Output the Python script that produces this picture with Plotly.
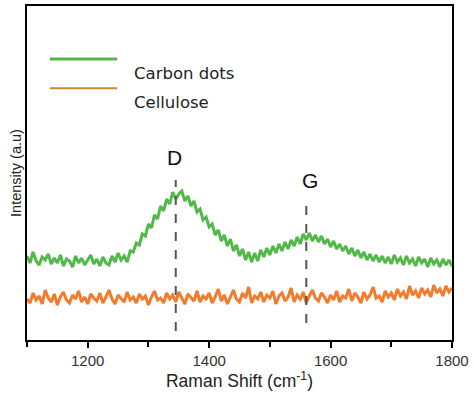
import plotly.graph_objects as go

raman_shift = [1100 + 5 * i for i in range(141)]

carbon_dots = [
    84, 77, 88, 79, 75, 83, 80, 86, 76, 82, 77, 85, 74, 81, 79, 73, 84, 77, 82, 75,
    80, 85, 76, 81, 74, 83, 77, 75, 84, 78, 87, 80,
    84, 78, 89, 88, 97, 95, 106, 104, 116, 112, 125, 121, 134, 129, 141, 136, 148, 141,
    146, 149, 139, 144, 134, 139, 128, 131, 120, 123, 113, 116, 105, 110, 99, 105, 94, 101,
    89, 95, 84, 91, 80, 88, 78,
    87, 79, 90, 83, 92, 85, 94, 87, 96, 89, 98, 91, 100, 94, 103, 96, 106, 100,
    107, 99, 105, 98, 104, 96, 101, 93, 99, 91, 96, 89, 94, 86, 92, 84, 90, 82, 88, 80,
    86, 79, 85, 78,
    84, 77, 83, 76, 85, 78, 82, 75, 84, 77, 81, 74, 83, 77, 81, 73, 82, 76, 80, 73,
    81, 75, 80, 74,
]

cellulose = [
    41, 37, 47, 40, 44, 36, 50, 42, 38, 46, 35, 43, 48, 40, 37, 45, 41, 49, 38, 43,
    36, 46, 42, 39, 47, 37, 43, 50, 41, 36, 45, 42, 38, 48, 40, 43, 37, 46, 41, 44,
    35, 43, 49, 40, 42, 37, 47, 41, 45, 38, 48, 42, 36, 46, 43, 39, 49, 38, 44, 41,
    47, 37, 43, 51, 39, 45, 36, 44, 50, 41, 38, 47, 42, 53, 37, 44, 41, 48, 38, 45,
    42, 49, 36, 44, 47, 39, 43, 52, 38, 45, 41, 48, 37, 44, 50, 42, 39, 47, 43, 37,
    45, 40, 49, 38, 44, 42, 51, 39, 47, 43, 37, 48, 41, 45, 53, 42, 44, 38, 49, 43,
    47, 40, 51, 44, 48, 41, 54, 45, 49, 42, 52, 46, 50, 43, 55, 47, 51, 44, 54, 48, 52,
]

series_names = ["Carbon dots", "Cellulose"]
peak_labels = ["D", "G"]
peak_positions = [1345, 1560]
x_ticks = [1200, 1400, 1600, 1800]

GREEN = "#52B848"
ORANGE = "#F37B2C"
LEGEND_ORANGE = "#C9872E"

fig = go.Figure()
fig.add_trace(go.Scatter(x=raman_shift, y=carbon_dots, mode="lines",
                         line=dict(color=GREEN, width=3), name=series_names[0],
                         showlegend=False))
fig.add_trace(go.Scatter(x=raman_shift, y=cellulose, mode="lines",
                         line=dict(color=ORANGE, width=3), name=series_names[1],
                         showlegend=False))

# dashed peak markers
fig.add_shape(type="line", x0=peak_positions[0], x1=peak_positions[0], y0=9, y1=160,
              line=dict(color="#555555", width=2, dash="dash"))
fig.add_shape(type="line", x0=peak_positions[1], x1=peak_positions[1], y0=17, y1=138,
              line=dict(color="#555555", width=2, dash="dash"))
fig.add_annotation(x=1343, y=183, text=peak_labels[0], showarrow=False,
                   font=dict(family="Liberation Sans, Arial", size=21, color="#111"))
fig.add_annotation(x=1566, y=160, text=peak_labels[1], showarrow=False,
                   font=dict(family="Liberation Sans, Arial", size=21, color="#111"))

# manual legend
fig.add_shape(type="line", xref="paper", yref="paper", x0=0.054, x1=0.212, y0=0.841, y1=0.841,
              line=dict(color=GREEN, width=3))
fig.add_shape(type="line", xref="paper", yref="paper", x0=0.054, x1=0.212, y0=0.754, y1=0.754,
              line=dict(color=LEGEND_ORANGE, width=2))
fig.add_annotation(xref="paper", yref="paper", x=0.248, y=0.831, text=series_names[0],
                   showarrow=False, xanchor="left",
                   font=dict(family="DejaVu Sans", size=16.5, color="#222"))
fig.add_annotation(xref="paper", yref="paper", x=0.248, y=0.746, text=series_names[1],
                   showarrow=False, xanchor="left",
                   font=dict(family="DejaVu Sans", size=16.5, color="#222"))

fig.update_layout(
    width=474, height=396,
    margin=dict(l=27, r=22, t=6, b=56),
    paper_bgcolor="white", plot_bgcolor="white",
    font=dict(family="Liberation Sans, Arial", color="#333"),
    xaxis=dict(range=[1100, 1800], tickvals=x_ticks, ticks="outside", ticklen=6,
               tickwidth=2, tickcolor="black", showline=True, linecolor="black",
               linewidth=2, mirror=True, showgrid=False, zeroline=False,
               automargin=False,
               tickfont=dict(size=15, color="#333"),
               minor=dict(dtick=100, tick0=1100, ticks="outside", ticklen=5,
                          tickwidth=2, tickcolor="black", showgrid=False),
               title=dict(text="Raman Shift (cm<sup>-1</sup>)", standoff=2,
                          font=dict(size=17.5, color="#222"))),
    yaxis=dict(range=[0, 334], showticklabels=False, ticks="", showline=True,
               linecolor="black", linewidth=2, mirror=True, showgrid=False,
               zeroline=False, automargin=False,
               title=dict(text="Intensity (a.u)", standoff=0,
                          font=dict(size=14.5, color="#222"))),
)

fig.write_html("out.html", config={"displayModeBar": False},
               post_script="document.body.style.margin='0';")
